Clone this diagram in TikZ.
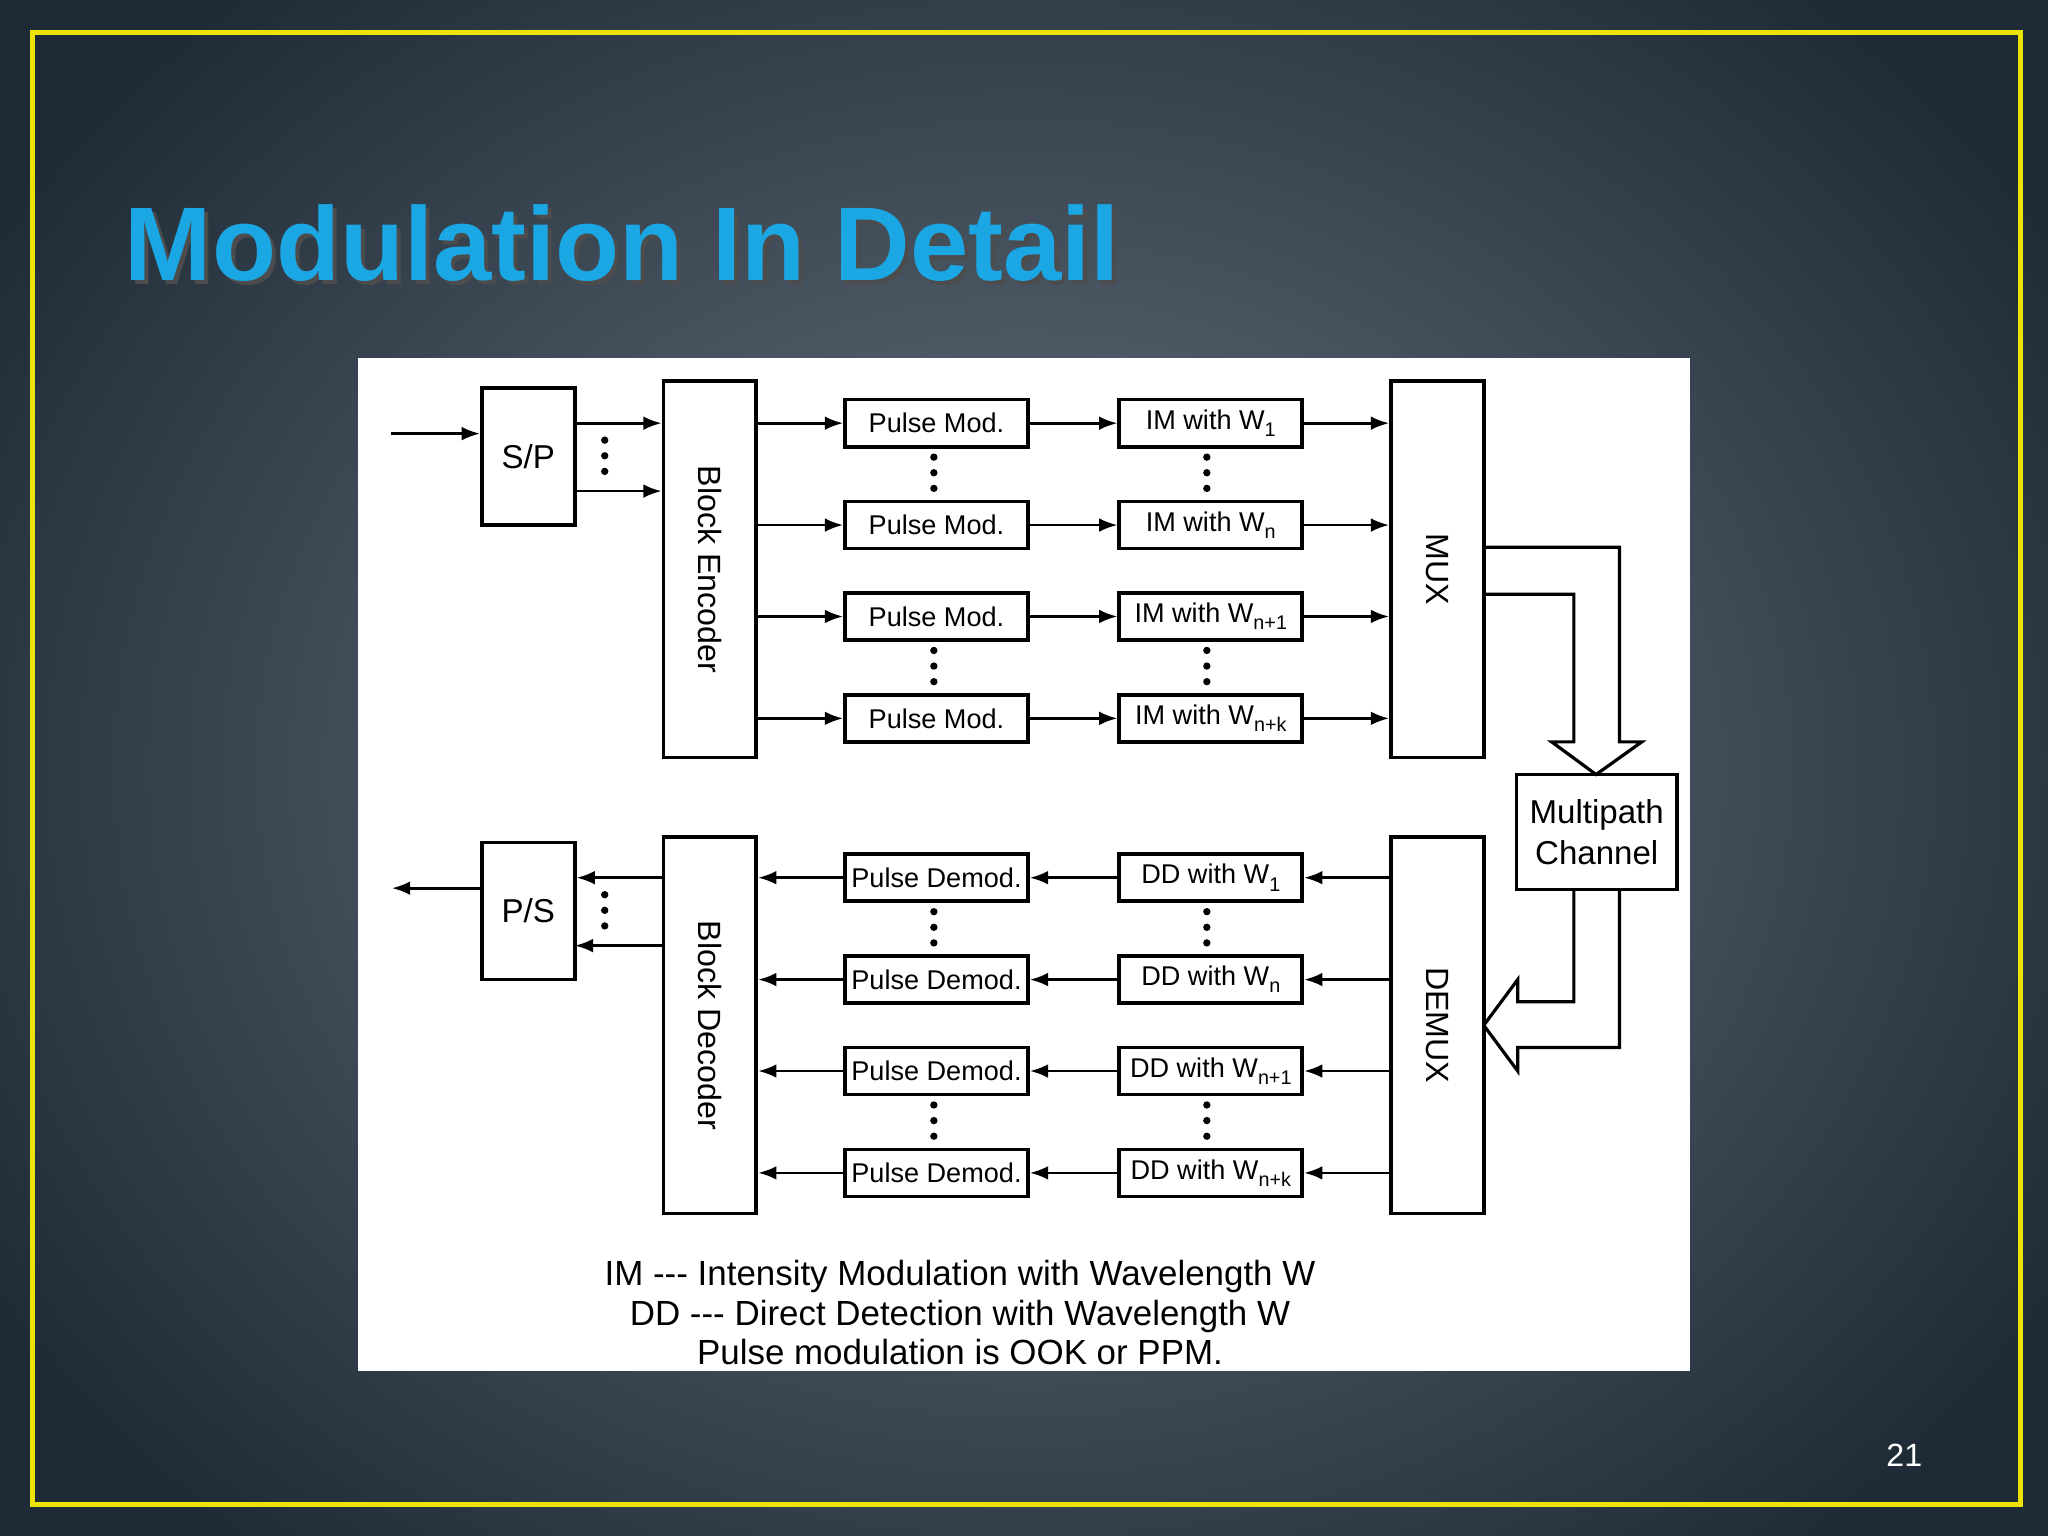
\documentclass[tikz,border=0pt]{standalone}
\usepackage{fontspec}
\setmainfont{Liberation Sans}
\usetikzlibrary{arrows.meta}
\definecolor{bgin}{HTML}{6B7884}
\definecolor{bgmid}{HTML}{3E4B58}
\definecolor{bgout}{HTML}{1E2B37}
\definecolor{ttl}{HTML}{1BA6E4}
\begin{document}
\begin{tikzpicture}[x=0.01cm,y=-0.01cm,
  blk/.style={draw,line width=0.8pt,fill=white,inner sep=0pt},
  sm/.style={blk,minimum width=1.40cm,minimum height=0.36cm,font=\fontsize{5.9pt}{6pt}\selectfont},
  tall/.style={blk,minimum width=0.71cm,minimum height=2.88cm},
  vlab/.style={rotate=-90,inner sep=0pt,font=\fontsize{7pt}{8pt}\selectfont},
  arr/.style={-{Latex[length=4pt,width=3pt]},line width=0.6pt},
  dts/.style={line width=1.6pt,dash pattern=on 0pt off 3.4pt,line cap=round}]
\useasboundingbox (0,0) rectangle (1568,1176);
\fill[bgout] (0,0) rectangle (1568,1176);
\shade[inner color=bgin,outer color=bgout] (-150,-200) rectangle (1718,1376);
\draw[yellow!85!olive,line width=1.2pt] (25,25) rectangle (1547,1152);
\node[anchor=base west,inner sep=0pt,text=black!70,font=\fontsize{22.8pt}{24pt}\selectfont\bfseries] (tsh) at (98,218) {Modulation In Detail};
\node[anchor=base west,inner sep=0pt,text=ttl,font=\fontsize{22.8pt}{24pt}\selectfont\bfseries] (title) at (95,215) {Modulation In Detail};
\node[anchor=base,text=white,font=\fontsize{7pt}{8pt}\selectfont] (pg) at (1458,1123) {21};
\fill[white] (274,274) rectangle (1294,1050);
% top
\node[blk,minimum width=0.71cm,minimum height=1.05cm,font=\fontsize{7.2pt}{8pt}\selectfont] (sp) at (404.5,349.5) {S/P};
\node[tall] (enc) at (543.5,436) {};
\node[vlab] (encl) at (enc.center) {Block Encoder};
\node[tall] (mux) at (1100.5,436) {};
\node[vlab] (muxl) at (mux.center) {MUX};
\foreach \n/\y/\s in {1/324/1,2/402/n,3/472/n+1,4/550/n+k}{
  \node[sm] (pm\n) at (717,\y) {Pulse Mod.};
  \node[sm] (im\n) at (927,\y) {IM with W\raisebox{-0.5ex}{\fontsize{4.3pt}{5pt}\selectfont\s}};
  \draw[arr] (enc.east |- pm\n) -- (pm\n);
  \draw[arr] (pm\n) -- (im\n);
  \draw[arr] (im\n) -- (mux.west |- im\n);
}
\coordinate (in) at (299,332);
\draw[arr] (in) -- (sp.west |- in);
\draw[arr] (sp.east |- pm1) -- (enc.west |- pm1);
\coordinate (spo) at (440,376);
\draw[arr] (spo) -- (enc.west |- spo);
\draw[dts] (463,337) -- (463,366);
\foreach \x in {715,924}{\draw[dts] (\x,350) -- (\x,380); \draw[dts] (\x,498) -- (\x,528);}
% channel
\node[blk,minimum width=1.23cm,minimum height=0.88cm,align=center,font=\fontsize{7.2pt}{9pt}\selectfont] (ch) at (1222.5,637) {Multipath\\Channel};
\draw[line width=0.7pt] (mux.east |- 0,419) -- (1240,419) -- (1240,568) -- (1257,568) -- (1222,593) -- (1188,568) -- (1205,568) -- (1205,455) -- (mux.east |- 0,455);
\draw[line width=0.7pt] (1205,681) -- (1205,767) -- (1162,767) -- (1162,750) -- (1136,785) -- (1162,820) -- (1162,802) -- (1240,802) -- (1240,681);
% bottom
\node[blk,minimum width=0.71cm,minimum height=1.05cm,font=\fontsize{7.2pt}{8pt}\selectfont] (ps) at (404.5,697.5) {P/S};
\node[tall] (dec) at (543.5,785) {};
\node[vlab] (decl) at (dec.center) {Block Decoder};
\node[tall] (dmx) at (1100.5,785) {};
\node[vlab] (dmxl) at (dmx.center) {DEMUX};
\foreach \n/\y/\s in {1/672/1,2/750/n,3/820/n+1,4/898/n+k}{
  \node[sm] (pd\n) at (717,\y) {Pulse Demod.};
  \node[sm] (dd\n) at (927,\y) {DD with W\raisebox{-0.5ex}{\fontsize{4.3pt}{5pt}\selectfont\s}};
  \draw[arr] (dmx.west |- dd\n) -- (dd\n);
  \draw[arr] (dd\n) -- (pd\n);
  \draw[arr] (pd\n) -- (dec.east |- pd\n);
}
\coordinate (out) at (300,680);
\draw[arr] (ps.west |- out) -- (out);
\draw[arr] (dec.west |- pd1) -- (ps.east |- pd1);
\coordinate (psi) at (440,724);
\draw[arr] (dec.west |- psi) -- (psi);
\draw[dts] (463,685) -- (463,714);
\foreach \x in {715,924}{\draw[dts] (\x,698) -- (\x,728); \draw[dts] (\x,846) -- (\x,876);}
\node[align=center,font=\fontsize{7.6pt}{8.6pt}\selectfont] (cap) at (735,1005) {IM {-}{-}{-} Intensity Modulation with Wavelength W\\DD {-}{-}{-} Direct Detection with Wavelength W\\Pulse modulation is OOK or PPM.};
\end{tikzpicture}
\end{document}
